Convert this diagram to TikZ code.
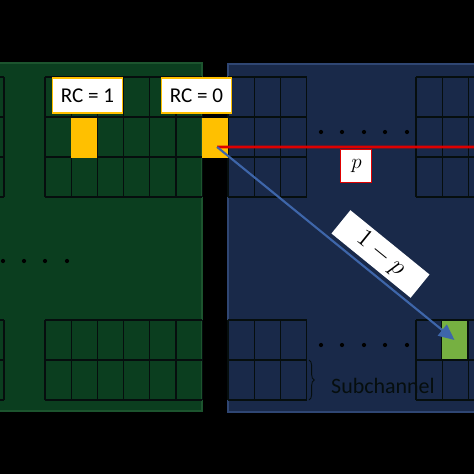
\documentclass[tikz,border=0pt]{standalone}
\usepackage{fontspec}
\setmainfont{Carlito}
\usetikzlibrary{arrows.meta,decorations.pathreplacing}

\definecolor{greenbg}{RGB}{11,62,31}
\definecolor{greenedge}{RGB}{28,84,46}
\definecolor{bluebg}{RGB}{25,41,73}
\definecolor{blueedge}{RGB}{47,70,115}
\definecolor{cellgold}{RGB}{255,192,0}
\definecolor{celllime}{RGB}{118,176,65}
\definecolor{linered}{RGB}{222,0,0}
\definecolor{arrowblue}{RGB}{62,102,170}
\definecolor{gridink}{RGB}{6,14,14}

% one block of subchannel cells: x0, y0, columns, rows
\newcommand{\cellblock}[4]{%
  \foreach \i in {0,...,#3} \draw[cellline] ({#1+26.2*\i},#2) -- ++(0,{40*#4});
  \foreach \j in {0,...,#4} \draw[cellline] (#1,{#2+40*\j}) -- ++({26.2*#3},0);
}

\begin{document}
\begin{tikzpicture}[x=0.02cm,y=-0.02cm,
  panelgreen/.style={fill=greenbg,draw=greenedge,line width=0.8pt},
  panelblue/.style={fill=bluebg,draw=blueedge,line width=0.8pt},
  cellline/.style={draw=gridink,line width=0.7pt},
  yellowcell/.style={fill=cellgold,minimum width=0.524cm,minimum height=0.8cm,inner sep=0pt},
  greencell/.style={fill=celllime,draw=gridink,line width=0.7pt,minimum width=0.524cm,minimum height=0.8cm,inner sep=0pt},
  rcbox/.style={fill=white,draw=cellgold,line width=0.6pt,minimum height=0.7cm,inner xsep=5pt,font=\fontsize{12}{14}\selectfont},
  pbox/.style={fill=white,draw=linered,line width=0.6pt,minimum width=0.62cm,minimum height=0.66cm,inner sep=0pt,font=\large},
  qbox/.style={fill=white,minimum width=2.04cm,minimum height=0.6cm,inner sep=0pt,font=\Large},
  redline/.style={draw=linered,line width=1.7pt},
  bluearrow/.style={draw=arrowblue,line width=1.2pt,-{Triangle[length=9pt,width=8pt]}},
  tinydot/.style={fill=black},
  bracemark/.style={draw=gridink,line width=0.5pt,decorate,decoration={brace,amplitude=3pt}},
  subtext/.style={text=gridink,font=\fontsize{12.5}{14}\selectfont}]
\useasboundingbox (0,0) rectangle (474,474);
\clip (0,0) rectangle (474,474);
\fill[black] (0,0) rectangle (474,474);

% panels
\draw[panelgreen] (-5,63) rectangle (202,411);
\draw[panelblue] (228,64) rectangle (480,412);

% cells, green side
\cellblock{-22.2}{77}{1}{3}
\cellblock{45}{77}{6}{3}
\cellblock{-22.2}{320}{1}{2}
\cellblock{45}{320}{6}{2}
% cells, blue side
\cellblock{228}{77}{3}{3}
\cellblock{416}{77}{3}{3}
\cellblock{228}{320}{3}{2}
\cellblock{416}{320}{3}{2}

% dots
\foreach \x in {3,24,45,67} \fill[tinydot] (\x,261) circle (1.2pt);
\foreach \x in {321,342,364,385,407} {
  \fill[tinydot] (\x,132) circle (1.2pt);
  \fill[tinydot] (\x,345) circle (1.2pt);
}

% reserved cells
\node[yellowcell] (rcone) at (84.1,138) {};
\node[yellowcell] (rczero) at (215.1,138) {};
\node[greencell] (target) at (454.5,340) {};

\node[rcbox] (rconelabel) at (87.5,95.5) {RC = 1};
\node[rcbox] (rczerolabel) at (196.5,95.5) {RC = 0};

% reselection
\coordinate (src) at ([xshift=0.04cm,yshift=-0.18cm]rczero.center);
\coordinate (redend) at (480,147);
\draw[redline] (src) -- node[pbox,pos=0.53,below=0.04cm] (plabel) {$p$} (redend);
\draw[bluearrow] (src) -- node[qbox,sloped,pos=0.635,above=0.08cm] (qlabel) {$1-p$} (target.center);

% subchannel
\draw[bracemark] (309,360) -- (309,400) coordinate (bracebot);
\node[subtext,anchor=west] (subch) at (325,386) {Subchannel};
\end{tikzpicture}
\end{document}
